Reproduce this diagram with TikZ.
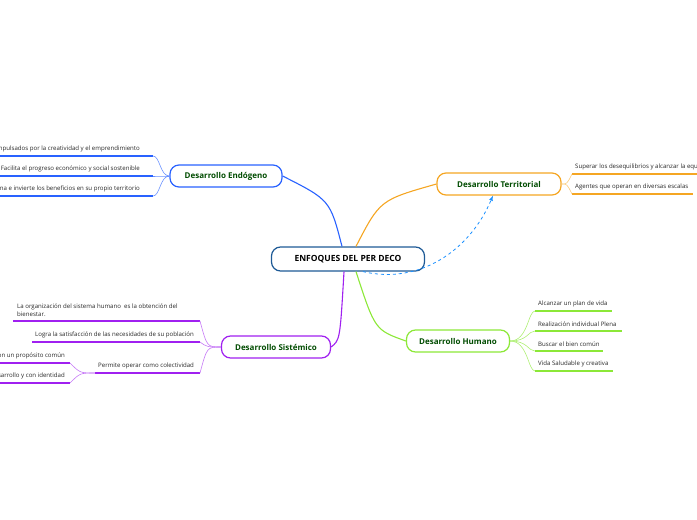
\documentclass[tikz,border=0pt]{standalone}
\usepackage{fontspec}
\setmainfont{Open Sans}
\begin{document}
\begin{tikzpicture}[x=1pt,y=-1pt,
 topic/.style={draw,rounded corners=9pt,line width=1.2pt,fill=white,minimum height=22pt,font=\bfseries\fontsize{8}{9}\selectfont,text=green!30!black},
 leaf/.style={font=\fontsize{6.1}{8}\selectfont,inner sep=1pt,text=black!85},
 con/.style={line width=1.1pt},
 ul/.style={line width=1.4pt}]
\useasboundingbox (0,0) rectangle (697,520);
\clip (0,0) rectangle (697,520);
\definecolor{cblue}{HTML}{2962FF}
\definecolor{corange}{HTML}{F5A623}
\definecolor{cgreen}{HTML}{8CE838}
\definecolor{cpurple}{HTML}{A020F0}
\definecolor{cdark}{HTML}{1E5A96}
% central
\node[topic,draw=cdark,text=black,minimum width=153pt,minimum height=24pt,font=\bfseries\fontsize{8.5}{9}\selectfont] (c) at (348,259) {ENFOQUES DEL PER DECO};
\node[topic,draw=cblue,minimum width=112pt] (en) at (226,176) {Desarrollo Endógeno};
\node[topic,draw=corange,minimum width=124pt] (te) at (499,184) {Desarrollo Territorial};
\node[topic,draw=cgreen,minimum width=103pt] (hu) at (458,341) {Desarrollo Humano};
\node[topic,draw=cpurple,minimum width=109pt] (si) at (276,347) {Desarrollo Sistémico};
% main connectors
\draw[con,cblue] (c.north) ++(-6,0) coordinate (c1) .. controls (330,200) .. (en.east);
\draw[con,corange] (c.north) ++(8,0) coordinate (c2) .. controls (380,200) .. (te.west);
\draw[con,cgreen] (c.south) ++(8,0) coordinate (c3) .. controls (375,330) .. (hu.west);
\draw[con,cpurple] (c.south) ++(-4,0) coordinate (c4) .. controls (340,340) .. (si.east);
\draw[cblue!70!cyan,dashed,line width=0.8pt,-latex] (c.south) ++(15,0) coordinate (c5) .. controls (420,285) and (470,250) .. ([xshift=-6pt]te.south);
% Endogeno leaves
\foreach \y/\t/\n in {156/Impulsados por la creatividad y el emprendimiento/e1,176/Facilita el progreso económico y social sostenible/e2,196/Retorna e invierte los beneficios en su propio territorio/e3}{
 \coordinate (\n) at (153,\y);
 \draw[cblue,ul] (0,\y) -- (\n);
 \node[leaf,anchor=south east] at (141,\y-3) {\t};
 \draw[cblue!70,line width=0.6pt] (en.west) .. controls (160,176) and (160,\y) .. (\n);}
% Territorial leaves
\coordinate (t1) at (572,174); \coordinate (t2) at (572,194);
\draw[corange,ul] (t1) -- (697,174); \draw[corange,ul] (t2) -- (693,194);
\node[leaf,anchor=south west] at (574,171) {Superar los desequilibrios y alcanzar la equidad};
\node[leaf,anchor=south west] at (574,191) {Agentes que operan en diversas escalas};
\foreach \n in {t1,t2}\draw[corange!60,line width=0.6pt] (te.east) .. controls (567,184) and (567,184) .. (\n);
% Humano leaves
\foreach \y/\e/\t/\n in {311/612/Alcanzar un plan de vida/h1,331/622/Realización individual Plena/h2,351/603/Buscar el bien común/h3,371/613/Vida Saludable y creativa/h4}{
 \coordinate (\n) at (535,\y);
 \draw[cgreen,ul] (\n) -- (\e,\y);
 \node[leaf,anchor=south west] at (537,\y-3) {\t};
 \draw[cgreen!70,line width=0.6pt] (hu.east) .. controls (528,341) and (528,\y) .. (\n);}
% Sistemico leaves
\coordinate (s1) at (200,321); \coordinate (s2) at (200,342); \coordinate (s3) at (200,373);
\draw[cpurple,ul] (13,321) -- (s1);
\draw[cpurple,ul] (32,342) -- (s2);
\draw[cpurple,ul] (95,373) -- (s3);
\node[leaf,anchor=south west,align=left] at (16,318) {La organización del sistema humano \ es la obtención del\\bienestar.};
\node[leaf,anchor=south west] at (34,339) {Logra la satisfacción de las necesidades de su población};
\node[leaf,anchor=south west] at (97,370) {Permite operar como colectividad};
\foreach \n in {s1,s2,s3}\draw[cpurple!60,line width=0.6pt] (si.west) .. controls (207,347) and (207,347) .. (\n);
\coordinate (p1) at (70,363); \coordinate (p2) at (70,383);
\draw[cpurple,ul] (0,363) -- (p1); \draw[cpurple,ul] (0,383) -- (p2);
\node[leaf,anchor=south east] at (66,360) {Con un propósito común};
\node[leaf,anchor=south east] at (66,380) {Desarrollo y con identidad};
\foreach \n in {p1,p2}\draw[cpurple!60,line width=0.6pt] (95,373) .. controls (80,373) and (80,373) .. (\n);
\end{tikzpicture}
\end{document}
